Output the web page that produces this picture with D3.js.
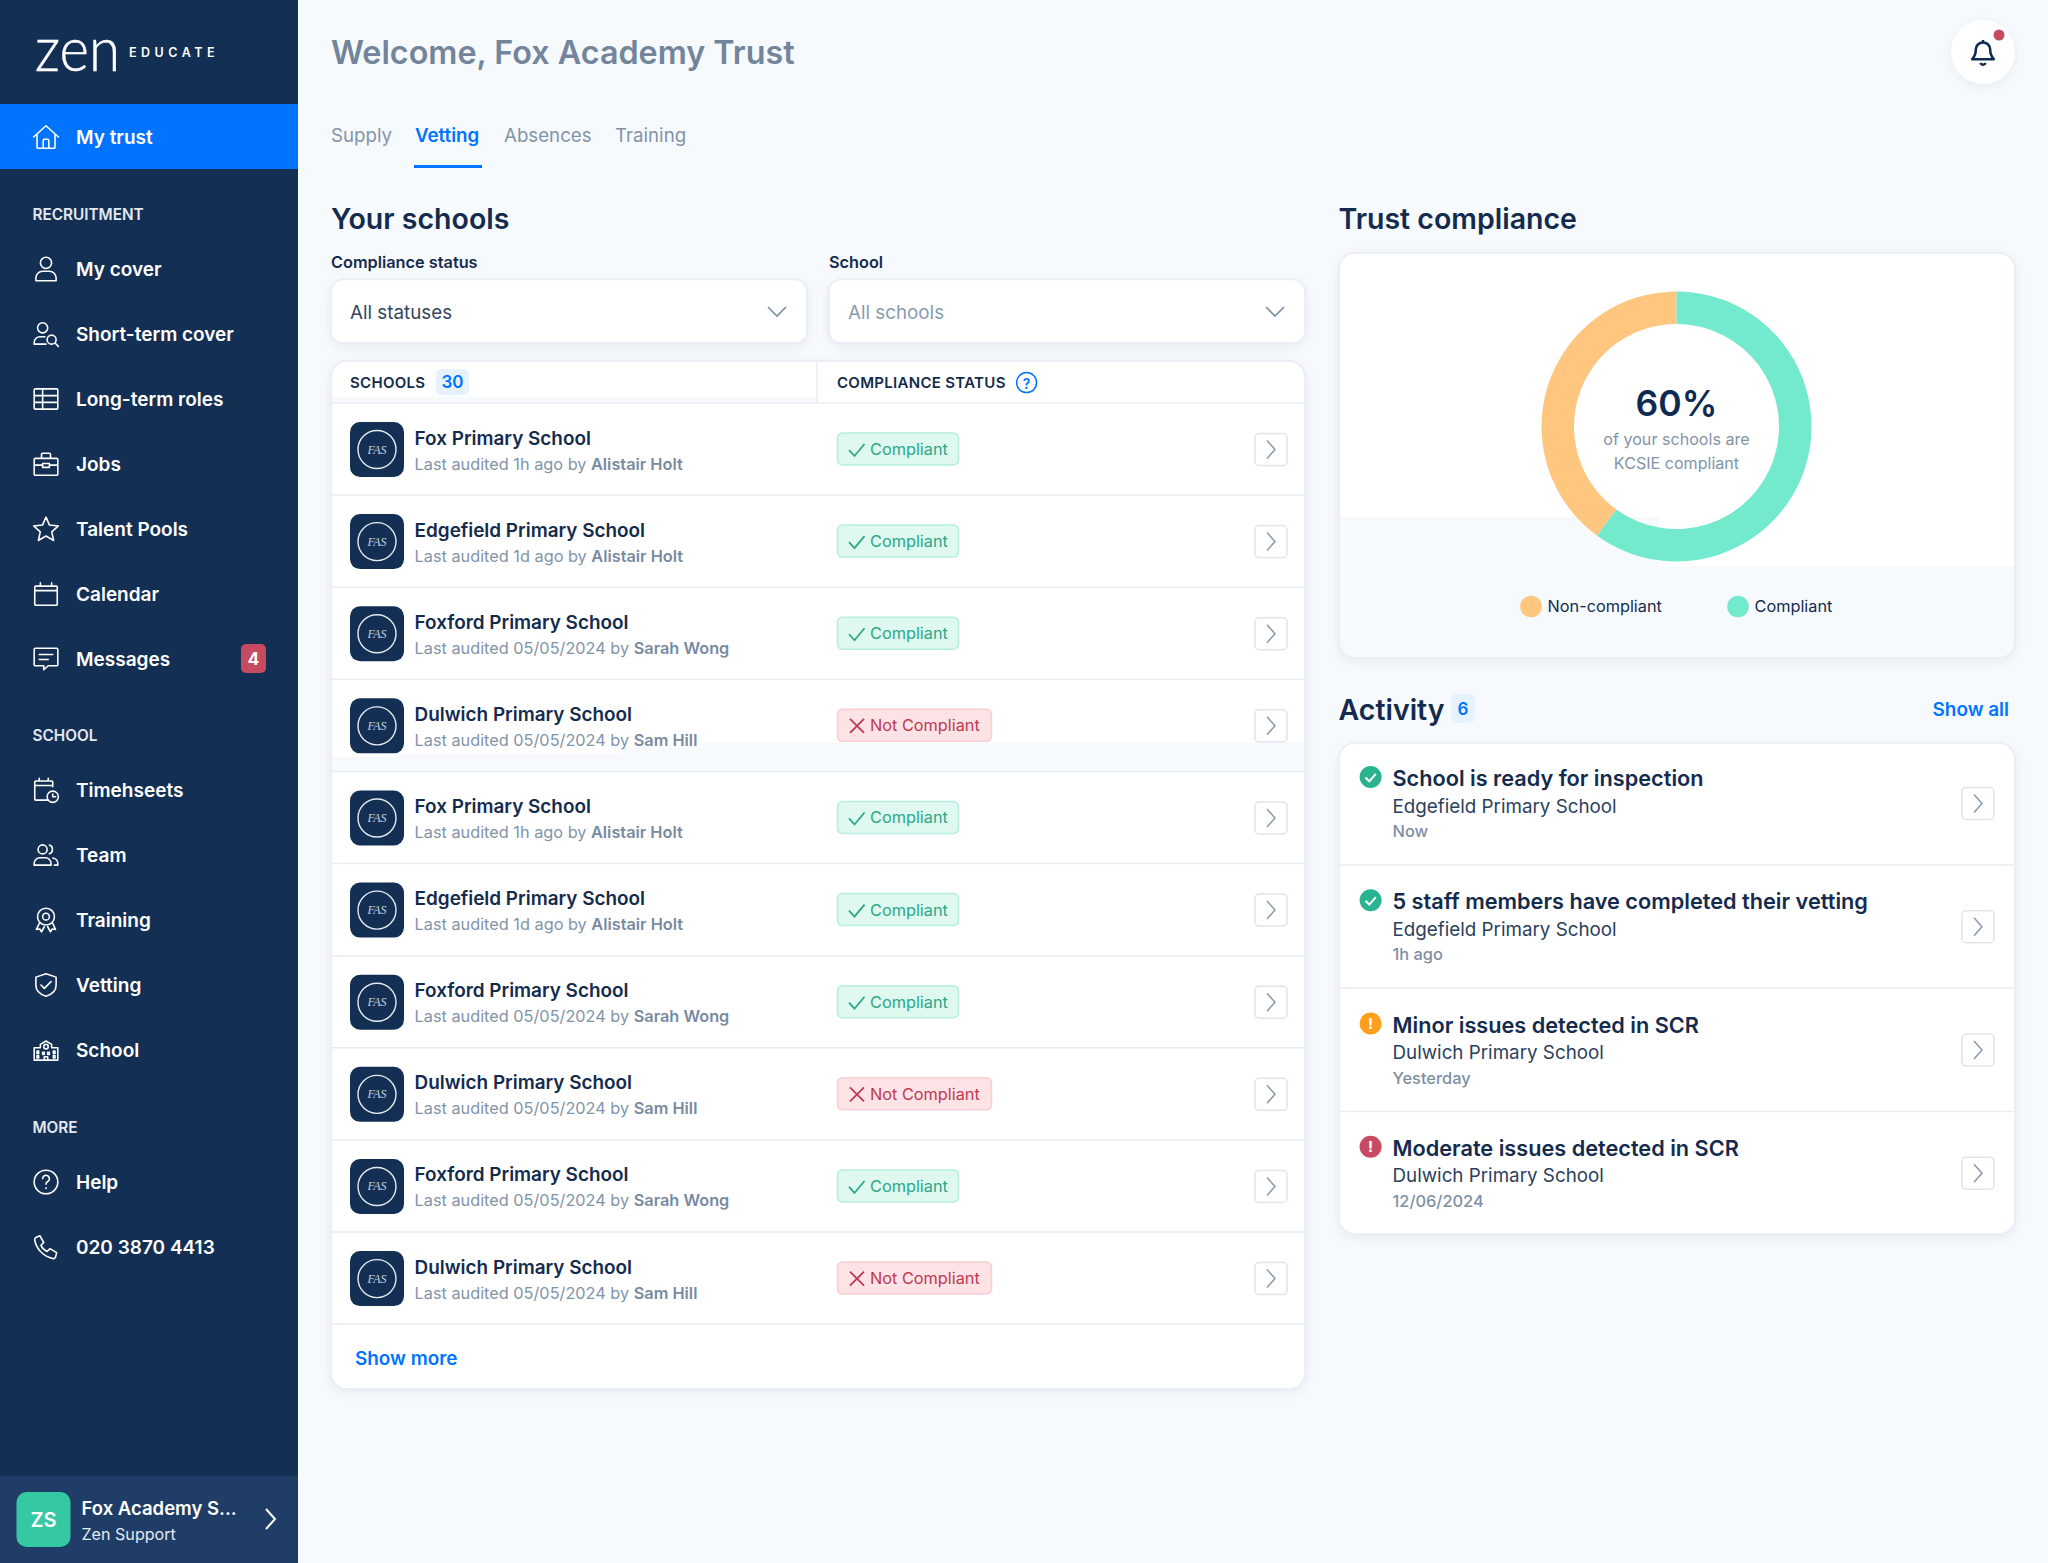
<!DOCTYPE html>
<html lang="en">
<head>
<meta charset="UTF-8">
<title>Zen Educate - Vetting</title>
<script src="https://d3js.org/d3.v7.min.js"></script>
<style>
    html, body { margin: 0; background: #f7fafd; }
    svg { display: block; font-family: Inter, "Noto Sans", sans-serif; }
    .card { filter: drop-shadow(0 3px 6px rgba(20, 47, 84, .07)); }
</style>
</head>
<body>
<svg width="2048" height="1563"></svg>
<script>
// data
const tabLabels = ["Supply", "Vetting", "Absences", "Training"];
const recruitmentLabels = ["My cover", "Short-term cover", "Long-term roles", "Jobs", "Talent Pools", "Calendar", "Messages"];
const schoolLabels = ["Timehseets", "Team", "Training", "Vetting", "School"];
const moreLabels = ["Help", "020 3870 4413"];

const schoolNames = ["Fox Primary School", "Edgefield Primary School", "Foxford Primary School", "Dulwich Primary School", "Fox Primary School", "Edgefield Primary School", "Foxford Primary School", "Dulwich Primary School", "Foxford Primary School", "Dulwich Primary School"];
const auditDates = ["1h ago", "1d ago", "05/05/2024", "05/05/2024", "1h ago", "1d ago", "05/05/2024", "05/05/2024", "05/05/2024", "05/05/2024"];
const auditors = ["Alistair Holt", "Alistair Holt", "Sarah Wong", "Sam Hill", "Alistair Holt", "Alistair Holt", "Sarah Wong", "Sam Hill", "Sarah Wong", "Sam Hill"];
const statuses = ["Compliant", "Compliant", "Compliant", "Not Compliant", "Compliant", "Compliant", "Compliant", "Not Compliant", "Compliant", "Not Compliant"];

const donutLabels = ["Non-compliant", "Compliant"];
const donutValues = [40, 60];

const activityTitles = ["School is ready for inspection", "5 staff members have completed their vetting", "Minor issues detected in SCR", "Moderate issues detected in SCR"];
const activitySchools = ["Edgefield Primary School", "Edgefield Primary School", "Dulwich Primary School", "Dulwich Primary School"];
const activityTimes = ["Now", "1h ago", "Yesterday", "12/06/2024"];
const activityKinds = ["ok", "ok", "minor", "moderate"];

// colours
const navy = "#142f54", ink = "#142b4d", grey = "#8294a8", blue = "#0073ff", page = "#f7fafd", line = "#e8edf3";
const donutColor = d3.scaleOrdinal().domain(donutLabels).range(["#ffc680", "#73eacd"]);
const kindColor = d3.scaleOrdinal().domain(["ok", "minor", "moderate"]).range(["#2bb391", "#ff9f1c", "#c74b60"]);

// icons, drawn in a 24 box
const icons = {
    "My trust": "M1 12 12 2l11 10M4 9.5V21a1 1 0 0 0 1 1h14a1 1 0 0 0 1-1V9.5M9.5 22v-7a1 1 0 0 1 1-1h3a1 1 0 0 1 1 1v7",
    "My cover": "M12 1.5a5 5 0 1 0 0 10 5 5 0 0 0 0-10ZM3 22.5V20a6 6 0 0 1 6-6h6a6 6 0 0 1 6 6v2.5Z",
    "Short-term cover": "M9 2a4.5 4.5 0 1 0 0 9 4.5 4.5 0 0 0 0-9ZM1.5 21v-1.5a5 5 0 0 1 5-5H11M1.5 21H12M17 13a4 4 0 1 0 0 8 4 4 0 0 0 0-8ZM20 20l3 3",
    "Long-term roles": "M1.5 4a1 1 0 0 1 1-1h19a1 1 0 0 1 1 1v16a1 1 0 0 1-1 1h-19a1 1 0 0 1-1-1ZM1.5 9h21M1.5 15h21M9 3v18",
    "Jobs": "M1.5 8a1 1 0 0 1 1-1h19a1 1 0 0 1 1 1v13a1 1 0 0 1-1 1h-19a1 1 0 0 1-1-1ZM8 7V3.5a1 1 0 0 1 1-1h6a1 1 0 0 1 1 1V7M1.5 13H9M15 13h7.5M9 11.5h6V15H9Z",
    "Talent Pools": "M12 1.5l3.1 7 7.9.8-5.9 5.2 1.7 7.7L12 18.2 5.2 22.2l1.7-7.7L1 9.3l7.9-.8Z",
    "Calendar": "M3 5h18a1 1 0 0 1 1 1v15a1 1 0 0 1-1 1H3a1 1 0 0 1-1-1V6a1 1 0 0 1 1-1ZM7 2v3M17 2v3M2 9h20",
    "Messages": "M2.5 2.5h19a1 1 0 0 1 1 1v13.5a1 1 0 0 1-1 1H14l-4 3.5V18H2.5a1 1 0 0 1-1-1V3.5a1 1 0 0 1 1-1ZM6 8h12M6 12.5h8",
    "Timehseets": "M18 9V5a1 1 0 0 0-1-1H3a1 1 0 0 0-1 1v15a1 1 0 0 0 1 1h10M6 1.5V4M14 1.5V4M2 8h16M18 13a5 5 0 1 0 0 10 5 5 0 0 0 0-10ZM18 15.5V18h2.5",
    "Team": "M9 3a4 4 0 1 0 0 8 4 4 0 0 0 0-8ZM1.5 21v-1.5a5 5 0 0 1 5-5h5a5 5 0 0 1 5 5V21ZM15 3.2a4 4 0 0 1 0 7.6M18 14.6a5 5 0 0 1 4.5 5V21h-3",
    "Training": "M12 1.5a7.5 7.5 0 1 0 0 15 7.5 7.5 0 0 0 0-15ZM12 6a3 3 0 1 0 0 6 3 3 0 0 0 0-6ZM6 15l-2.5 5.5 3-.5 1.5 2.5 2.5-4.5M18 15l2.5 5.5-3-.5-1.5 2.5-2.5-4.5",
    "Vetting": "M12 2l9 3v7c0 5-4 8.5-9 10-5-1.5-9-5-9-10V5ZM7.5 12l3 3 6-6",
    "School": "M1.5 10H7V7l5-3 5 3v3h5.5v11H1.5ZM12 7a2 2 0 1 0 0 4 2 2 0 0 0 0-4ZM4 13h1.5v2H4ZM4 17h1.5v2H4ZM18.5 13H20v2h-1.5ZM18.5 17H20v2h-1.5ZM9 14h1.5v2H9ZM13.5 14H15v2h-1.5ZM10.5 21v-3h3v3",
    "Help": "M12 1.5a10.5 10.5 0 1 0 0 21 10.5 10.5 0 0 0 0-21ZM9 9a3 3 0 1 1 4.5 2.6c-1 .6-1.5 1.2-1.5 2.4M12 17.2v.6",
    "020 3870 4413": "M3 3.5 6.5 2l3.5 6-2.5 2.5c1 2.5 3 4.5 5.5 5.5l2.5-2.5 6 3.5-1 4c-.5 1-1.5 1.5-2.5 1.2C10 20.5 3.5 14 2 6c-.2-1 .2-2 1-2.5Z"
};
const bellIcon = "M6 10a6 6 0 1 1 12 0c0 5 2 7 3 8H3c1-1 3-3 3-8ZM9.8 21.2a2.4 2.4 0 0 0 4.4 0M12 2v2";
const chevronDown = "M0 0l9 9 9-9";

const svg = d3.select("svg");

// helpers
function label(g, x, y, str, size, weight, color, anchor) {
    return g.append("text")
        .attr("x", x).attr("y", y)
        .attr("dominant-baseline", "central")
        .attr("text-anchor", anchor || "start")
        .attr("font-size", size)
        .attr("font-weight", weight)
        .attr("fill", color)
        .text(str);
}
function box(g, x, y, w, h, r, fill, stroke) {
    return g.append("rect")
        .attr("x", x).attr("y", y).attr("width", w).attr("height", h).attr("rx", r)
        .attr("fill", fill).attr("stroke", stroke || "none");
}
function navIcon(g, name, cy) {
    g.append("path")
        .attr("transform", `translate(32.5,${cy - 13.5}) scale(1.125)`)
        .attr("d", icons[name])
        .attr("fill", "none").attr("stroke", "#fff").attr("stroke-width", 1.4)
        .attr("stroke-linecap", "round").attr("stroke-linejoin", "round");
}
function arrowButton(g, cx, cy) {
    box(g, cx - 16, cy - 16, 32, 32, 4, "#fff", "#dfe5ec").attr("stroke-width", 1.5);
    g.append("path")
        .attr("d", `M${cx - 4} ${cy - 9}l8 9-8 9`)
        .attr("fill", "none").attr("stroke", "#8a99a9").attr("stroke-width", 1.5);
}

svg.append("rect").attr("width", 2048).attr("height", 1563).attr("fill", page);

// sidebar
const side = svg.append("g");
side.append("rect").attr("width", 298).attr("height", 1563).attr("fill", navy);
side.append("rect").attr("y", 1476).attr("width", 298).attr("height", 87).attr("fill", "#1f3d66");
side.append("rect").attr("y", 104).attr("width", 298).attr("height", 65).attr("fill", blue);

label(side, 35, 47, "zen", 61, 300, "#fff")
    .attr("font-family", "Lato").attr("stroke", "#fff").attr("stroke-width", .5)
    .attr("textLength", 85).attr("lengthAdjust", "spacingAndGlyphs");
label(side, 129, 52, "EDUCATE", 12.5, 600, "#fff").attr("letter-spacing", 4.5);

navIcon(side, "My trust", 137);
label(side, 76, 137, "My trust", 19, 600, "#fff");

label(side, 32.5, 214, "RECRUITMENT", 15.3, 600, "#e4e9f0");
const yRecruit = d3.scalePoint().domain(recruitmentLabels).range([269, 659]);
recruitmentLabels.forEach(d => {
    navIcon(side, d, yRecruit(d));
    label(side, 76, yRecruit(d), d, 19, 600, "#fff");
});
box(side, 241, 644, 25, 29, 5, "#c74b60");
label(side, 253.5, 658.5, "4", 17, 700, "#fff", "middle");

label(side, 32.5, 735, "SCHOOL", 15.3, 600, "#e4e9f0");
const ySchool = d3.scalePoint().domain(schoolLabels).range([790, 1050]);
schoolLabels.forEach(d => {
    navIcon(side, d, ySchool(d));
    label(side, 76, ySchool(d), d, 19, 600, "#fff");
});

label(side, 32.5, 1127, "MORE", 15.3, 600, "#e4e9f0");
const yMore = d3.scalePoint().domain(moreLabels).range([1182, 1247]);
moreLabels.forEach(d => {
    navIcon(side, d, yMore(d));
    label(side, 76, yMore(d), d, 19, 600, "#fff");
});

box(side, 16.5, 1492, 54, 55, 10, "#34c9a3");
label(side, 43.5, 1520, "ZS", 20, 600, "#fff", "middle");
label(side, 81.5, 1508, "Fox Academy S...", 18.5, 600, "#fff");
label(side, 81.5, 1534, "Zen Support", 16.1, 400, "#e4e9f0");
side.append("path").attr("d", "M266 1509l9 10-9 10").attr("fill", "none").attr("stroke", "#fff").attr("stroke-width", 2);

// header
label(svg, 331, 52, "Welcome, Fox Academy Trust", 32.3, 600, "#72859b");
const bell = svg.append("g");
bell.append("circle").attr("class", "card").attr("cx", 1983).attr("cy", 52).attr("r", 32).attr("fill", "#fff");
bell.append("path").attr("transform", "translate(1968.6,37.6) scale(1.2)").attr("d", bellIcon)
    .attr("fill", "none").attr("stroke", "#0f2a50").attr("stroke-width", 2.1).attr("stroke-linejoin", "round");
bell.append("circle").attr("cx", 1999).attr("cy", 35).attr("r", 5.5).attr("fill", "#c74b60");

// tabs
const tabX = d3.scaleOrdinal().domain(tabLabels).range([331, 415, 504, 615]);
tabLabels.forEach(d => label(svg, tabX(d), 135, d, 18.7, d === "Vetting" ? 600 : 400, d === "Vetting" ? blue : "#8294a8"));
svg.append("rect").attr("x", 414).attr("y", 165).attr("width", 68).attr("height", 3).attr("fill", blue);

// filters
label(svg, 331, 218, "Your schools", 28.5, 600, ink);
label(svg, 331, 262, "Compliance status", 16.3, 600, ink);
label(svg, 829, 262, "School", 16.3, 600, ink);
[[331, "All statuses", "#33475f"], [829, "All schools", "#8a9bb0"]].forEach(f => {
    box(svg, f[0], 279.5, 476, 63.5, 12, "#fff", line).attr("stroke-width", 1.5).attr("class", "card");
    label(svg, f[0] + 19, 312, f[1], 18.8, 400, f[2]);
    svg.append("path").attr("transform", `translate(${f[0] + 437},307)`).attr("d", chevronDown)
        .attr("fill", "none").attr("stroke", "#7f8fa3").attr("stroke-width", 1.6);
});

// schools table
const table = svg.append("g");
box(table, 331, 361, 974, 1028, 16, "#fff", line).attr("stroke-width", 1.5).attr("class", "card");
table.append("rect").attr("x", 332).attr("y", 397).attr("width", 485).attr("height", 6).attr("fill", page);
table.append("path").attr("fill", page).attr("d", "M332 757H396V753H623V746H700V743H1304V771H332Z");
table.append("line").attr("x1", 817).attr("x2", 817).attr("y1", 361).attr("y2", 403).attr("stroke", line).attr("stroke-width", 1.5);
table.append("line").attr("x1", 331).attr("x2", 1305).attr("y1", 403).attr("y2", 403).attr("stroke", line).attr("stroke-width", 1.5);

label(table, 350, 382.5, "SCHOOLS", 15, 600, ink).attr("letter-spacing", .3);
box(table, 436, 369, 33, 26, 5, "#e6f3fe");
label(table, 452.5, 382, "30", 17, 600, blue, "middle");
label(table, 837, 382.5, "COMPLIANCE STATUS", 15, 600, ink).attr("letter-spacing", .3);
table.append("circle").attr("cx", 1026.6).attr("cy", 382.6).attr("r", 10).attr("fill", "none").attr("stroke", blue).attr("stroke-width", 1.5);
label(table, 1026.6, 383, "?", 14, 600, blue, "middle");

const yRow = d3.scaleLinear().domain([0, schoolNames.length]).range([403, 1324.2]);
const rows = table.selectAll("g.row").data(schoolNames).enter().append("g").attr("class", "row")
    .attr("transform", (d, i) => `translate(0,${yRow(i)})`);

rows.append("line").attr("x1", 331).attr("x2", 1305).attr("y1", yRow(1) - yRow(0)).attr("y2", yRow(1) - yRow(0))
    .attr("stroke", line).attr("stroke-width", 1.5);
rows.append("rect").attr("x", 350).attr("y", 19).attr("width", 54).attr("height", 55).attr("rx", 10).attr("fill", navy);
rows.append("circle").attr("cx", 377).attr("cy", 46.5).attr("r", 19).attr("fill", "none").attr("stroke", "#e6ebf1").attr("stroke-width", 1.4);
rows.append("text").attr("x", 377).attr("y", 46.5).attr("text-anchor", "middle").attr("dominant-baseline", "central")
    .attr("font-family", "Liberation Serif").attr("font-style", "italic").attr("font-size", 12).attr("fill", "#c9d2dc").text("FAS");

rows.append("text").attr("x", 414.6).attr("y", 35).attr("dominant-baseline", "central")
    .attr("font-size", 18.9).attr("font-weight", 600).attr("fill", ink).text(d => d);
const sub = rows.append("text").attr("x", 414.6).attr("y", 60.5).attr("dominant-baseline", "central")
    .attr("font-size", 16.3).attr("fill", grey);
sub.append("tspan").text((d, i) => `Last audited ${auditDates[i]} by `);
sub.append("tspan").attr("font-weight", 600).attr("fill", "#788a9f").text((d, i) => auditors[i]);

rows.each(function (d, i) {
    const g = d3.select(this);
    const ok = statuses[i] === "Compliant";
    box(g, 837.5, 30, ok ? 121 : 154, 32, 5, ok ? "#dff8f0" : "#fde3e6", ok ? "#b5eedd" : "#f9cdd3").attr("stroke-width", 1.5);
    g.append("path").attr("d", ok ? "M849 47l5.5 6 10-12" : "M850 39.5l14 14M864 39.5l-14 14")
        .attr("fill", "none").attr("stroke", ok ? "#2aa887" : "#c0384f").attr("stroke-width", 1.8);
    label(g, 870, 46, statuses[i], 16.3, 400, ok ? "#2aa887" : "#c0384f");
    arrowButton(g, 1271, 46.5);
});

label(table, 355, 1358, "Show more", 18.9, 600, blue);

// trust compliance donut
label(svg, 1338.5, 218, "Trust compliance", 28.5, 600, ink);
const donutCard = svg.append("g");
box(donutCard, 1339, 253, 676, 405, 16, page, line).attr("stroke-width", 1.5).attr("class", "card");
donutCard.append("path").attr("fill", "#fff")
    .attr("d", "M1340 517V269a15 15 0 0 1 15-15H1999a15 15 0 0 1 15 15V566H1659V517Z");

const total = d3.sum(donutValues);
const pie = d3.pie().sort(null)
    .startAngle(-2 * Math.PI * donutValues[0] / total)
    .endAngle(2 * Math.PI - 2 * Math.PI * donutValues[0] / total);
const arc = d3.arc().innerRadius(102.5).outerRadius(135);
donutCard.append("g").attr("transform", "translate(1676.5,426.5)")
    .selectAll("path").data(pie(donutValues)).enter().append("path")
    .attr("d", arc)
    .attr("fill", (d, i) => donutColor(donutLabels[i]));
label(donutCard, 1676.5, 403.5, "60%", 35.5, 600, "#0f2a50", "middle");
label(donutCard, 1676.5, 439, "of your schools are", 16.1, 400, grey, "middle");
label(donutCard, 1676.5, 463, "KCSIE compliant", 16.1, 400, grey, "middle");

const legendX = d3.scaleOrdinal().domain(donutLabels).range([1531, 1738]);
donutLabels.forEach(d => {
    donutCard.append("circle").attr("cx", legendX(d)).attr("cy", 606.5).attr("r", 10.8).attr("fill", donutColor(d));
    label(donutCard, legendX(d) + 16.5, 606, d, 16.3, 400, ink);
});

// activity
label(svg, 1338.5, 709, "Activity", 28.5, 600, ink);
box(svg, 1451, 694, 24, 29, 5, "#e6f3fe");
label(svg, 1463, 709, "6", 17, 600, blue, "middle");
label(svg, 2009, 709, "Show all", 18.9, 600, blue, "end");

const activity = svg.append("g");
box(activity, 1339, 743, 676, 491, 16, "#fff", line).attr("stroke-width", 1.5).attr("class", "card");
const yActivity = d3.scaleLinear().domain([0, activityTitles.length]).range([742, 1235]);
const items = activity.selectAll("g.item").data(activityTitles).enter().append("g").attr("class", "item")
    .attr("transform", (d, i) => `translate(0,${yActivity(i)})`);

items.filter((d, i) => i < activityTitles.length - 1).append("line")
    .attr("x1", 1339).attr("x2", 2015).attr("y1", 123).attr("y2", 123).attr("stroke", line).attr("stroke-width", 1.5);
items.append("circle").attr("cx", 1370.6).attr("cy", 35).attr("r", 11).attr("fill", (d, i) => kindColor(activityKinds[i]));
items.each(function (d, i) {
    const g = d3.select(this);
    if (activityKinds[i] === "ok") {
        g.append("path").attr("d", "M1365.5 35.5l3.8 3.8 6.5-7.5").attr("fill", "none").attr("stroke", "#fff").attr("stroke-width", 2);
    } else {
        label(g, 1370.6, 35, "!", 15, 700, "#fff", "middle");
    }
    label(g, 1392.5, 36, d, 21.7, 600, ink);
    label(g, 1392.5, 64, activitySchools[i], 18.8, 400, "#2b3f5c");
    label(g, 1392.5, 89, activityTimes[i], 16.4, 500, "#7f8fa3");
    arrowButton(g, 1978, 61.5);
});
</script>
</body>
</html>
